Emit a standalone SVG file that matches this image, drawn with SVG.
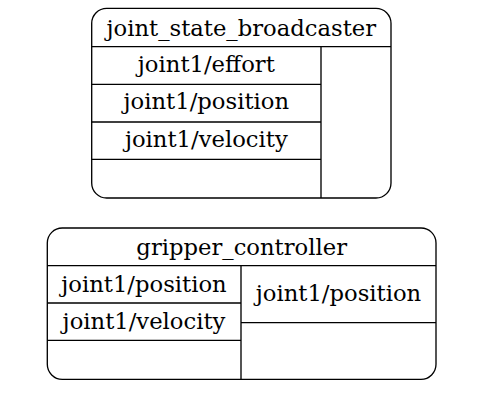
<svg xmlns="http://www.w3.org/2000/svg" width="484" height="415" viewBox="0 0 484 415">
<style>
.b{fill:#fff;stroke:#000;stroke-width:1.33}
.l{stroke:#000;stroke-width:1.33;fill:none}
text{font-family:"DejaVu Serif","Liberation Serif",serif;font-size:22.7px;text-anchor:middle;fill:#000}
</style>
<rect width="484" height="415" fill="#fff"/>
<g id="joint_state_broadcaster">
<rect class="b" x="91.7" y="8.3" width="299.3" height="189.7" rx="15" ry="15"/>
<path class="l" d="M91.7 46.7H391M321 46.7V198M91.7 84.3H321M91.7 122H321M91.7 159.3H321"/>
<text x="241.3" y="36">joint_state_broadcaster</text>
<text x="206.3" y="72">joint1/effort</text>
<text x="206.3" y="109.3">joint1/position</text>
<text x="206.3" y="146.6">joint1/velocity</text>
</g>
<g id="gripper_controller">
<rect class="b" x="47.3" y="228" width="388.7" height="151.3" rx="15" ry="15"/>
<path class="l" d="M47.3 265.7H436M241 265.7V379.3M47.3 303H241M47.3 340.3H241M241 322.7H436"/>
<text x="241.7" y="254.5">gripper_controller</text>
<text x="144" y="291.5">joint1/position</text>
<text x="144" y="328.8">joint1/velocity</text>
<text x="338.5" y="300.8">joint1/position</text>
</g>
<g id="connectors"/>
</svg>
